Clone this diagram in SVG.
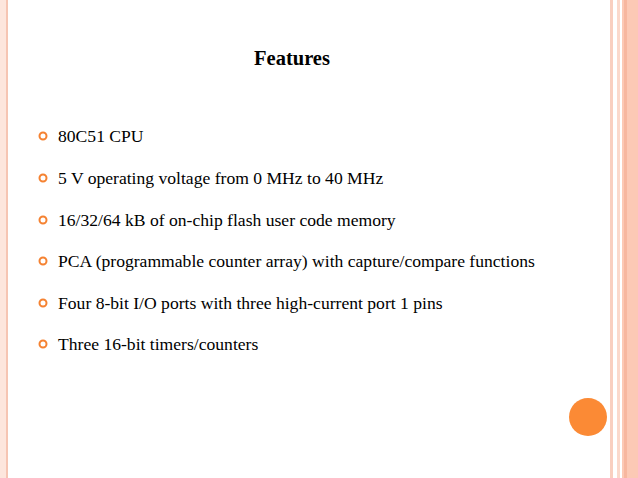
<svg xmlns="http://www.w3.org/2000/svg" width="638" height="478" viewBox="0 0 638 478">
<style>
.t{font-family:"Liberation Serif",serif;font-size:17.6px;fill:#000}
.b{fill:none;stroke:#f58231;stroke-width:2}
</style>
<rect width="638" height="478" fill="#fff"/>
<rect x="0" y="0" width="7" height="478" fill="#fde6dd"/>
<rect x="6" y="0" width="2" height="478" fill="#f6c5b3"/>
<rect x="610" y="0" width="3" height="478" fill="#f9cfc0"/>
<rect x="617" y="0" width="3" height="478" fill="#fbd9cc"/>
<rect x="622" y="0" width="16" height="478" fill="#fcc9b5"/>
<rect x="624" y="0" width="3" height="478" fill="#f7b79f"/>
<circle cx="588" cy="417" r="19" fill="#fb8a35"/>
<text x="292" y="65" text-anchor="middle" style="font-family:'Liberation Serif',serif;font-size:20.5px;font-weight:bold">Features</text>
<g id="bullets">
<circle class="b" cx="43" cy="136" r="3.5"/>
<circle class="b" cx="43" cy="178" r="3.5"/>
<circle class="b" cx="43" cy="220" r="3.5"/>
<circle class="b" cx="43" cy="261" r="3.5"/>
<circle class="b" cx="43" cy="303" r="3.5"/>
<circle class="b" cx="43" cy="344" r="3.5"/>
</g>
<text class="t" x="58" y="142">80C51 CPU</text>
<text class="t" x="58" y="184">5 V operating voltage from 0 MHz to 40 MHz</text>
<text class="t" x="58" y="226">16/32/64 kB of on-chip flash user code memory</text>
<text class="t" x="58" y="267">PCA (programmable counter array) with capture/compare functions</text>
<text class="t" x="58" y="309">Four 8-bit I/O ports with three high-current port 1 pins</text>
<text class="t" x="58" y="350">Three 16-bit timers/counters</text>
</svg>
